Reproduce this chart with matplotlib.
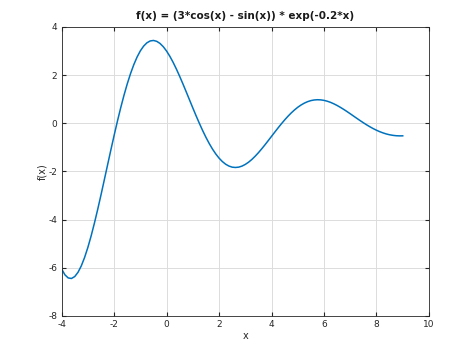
import matplotlib
matplotlib.use("Agg")
import matplotlib.pyplot as plt

plt.rcParams["axes.unicode_minus"] = False

# values, step 0.125 from -4 to 9
x_vals = [-4.0 + 0.125 * i for i in range(105)]
y_vals = [
    -6.048, -6.291, -6.421, -6.444, -6.364, -6.187, -5.920, -5.573,
    -5.155, -4.675, -4.145, -3.575, -2.976, -2.357, -1.735, -1.114,
    -0.506, 0.081, 0.638, 1.157, 1.633, 2.060, 2.433, 2.750,
    3.008, 3.205, 3.342, 3.420, 3.440, 3.404, 3.316, 3.180,
    3.000, 2.782, 2.530, 2.250, 1.948, 1.631, 1.303, 0.970,
    0.638, 0.312, -0.002, -0.302, -0.582, -0.839, -1.070, -1.273,
    -1.446, -1.588, -1.698, -1.775, -1.821, -1.834, -1.820, -1.777,
    -1.707, -1.615, -1.501, -1.368, -1.221, -1.061, -0.893, -0.718,
    -0.541, -0.364, -0.190, -0.021, 0.140, 0.291, 0.430, 0.555,
    0.666, 0.760, 0.838, 0.899, 0.943, 0.969, 0.979, 0.973,
    0.952, 0.917, 0.869, 0.809, 0.740, 0.662, 0.578, 0.489,
    0.396, 0.301, 0.207, 0.113, 0.023, -0.064, -0.145, -0.220,
    -0.288, -0.348, -0.399, -0.443, -0.476, -0.500, -0.516, -0.522,
    -0.520,
]
x_ticks = [-4, -2, 0, 2, 4, 6, 8, 10]
y_ticks = [-8, -6, -4, -2, 0, 2, 4]
title = "f(x) = (3*cos(x) - sin(x)) * exp(-0.2*x)"

fig = plt.figure(figsize=(4.74, 3.55), dpi=100)
ax = fig.add_axes([0.130, 0.110, 0.775, 0.814])
ax.plot(x_vals, y_vals, color="#0072BD", linewidth=1.1)

ax.set_xlim(-4, 10)
ax.set_ylim(-8, 4)
ax.set_xticks(x_ticks)
ax.set_yticks(y_ticks)
ax.grid(True, color="#dcdcdc", linewidth=0.7)
ax.set_axisbelow(True)
ax.tick_params(direction="in", length=3, labelsize=6.5, colors="#262626",
               top=True, right=True, pad=3)
for s in ax.spines.values():
    s.set_color("#262626")
    s.set_linewidth(0.6)

ax.set_xlabel("x", fontsize=7, color="#262626", labelpad=1)
ax.set_ylabel("f(x)", fontsize=7, color="#262626", labelpad=1)
ax.set_title(title, fontsize=7.5, fontweight="bold", color="#1a1a1a", pad=6)

fig.savefig("out.png", dpi=100)
